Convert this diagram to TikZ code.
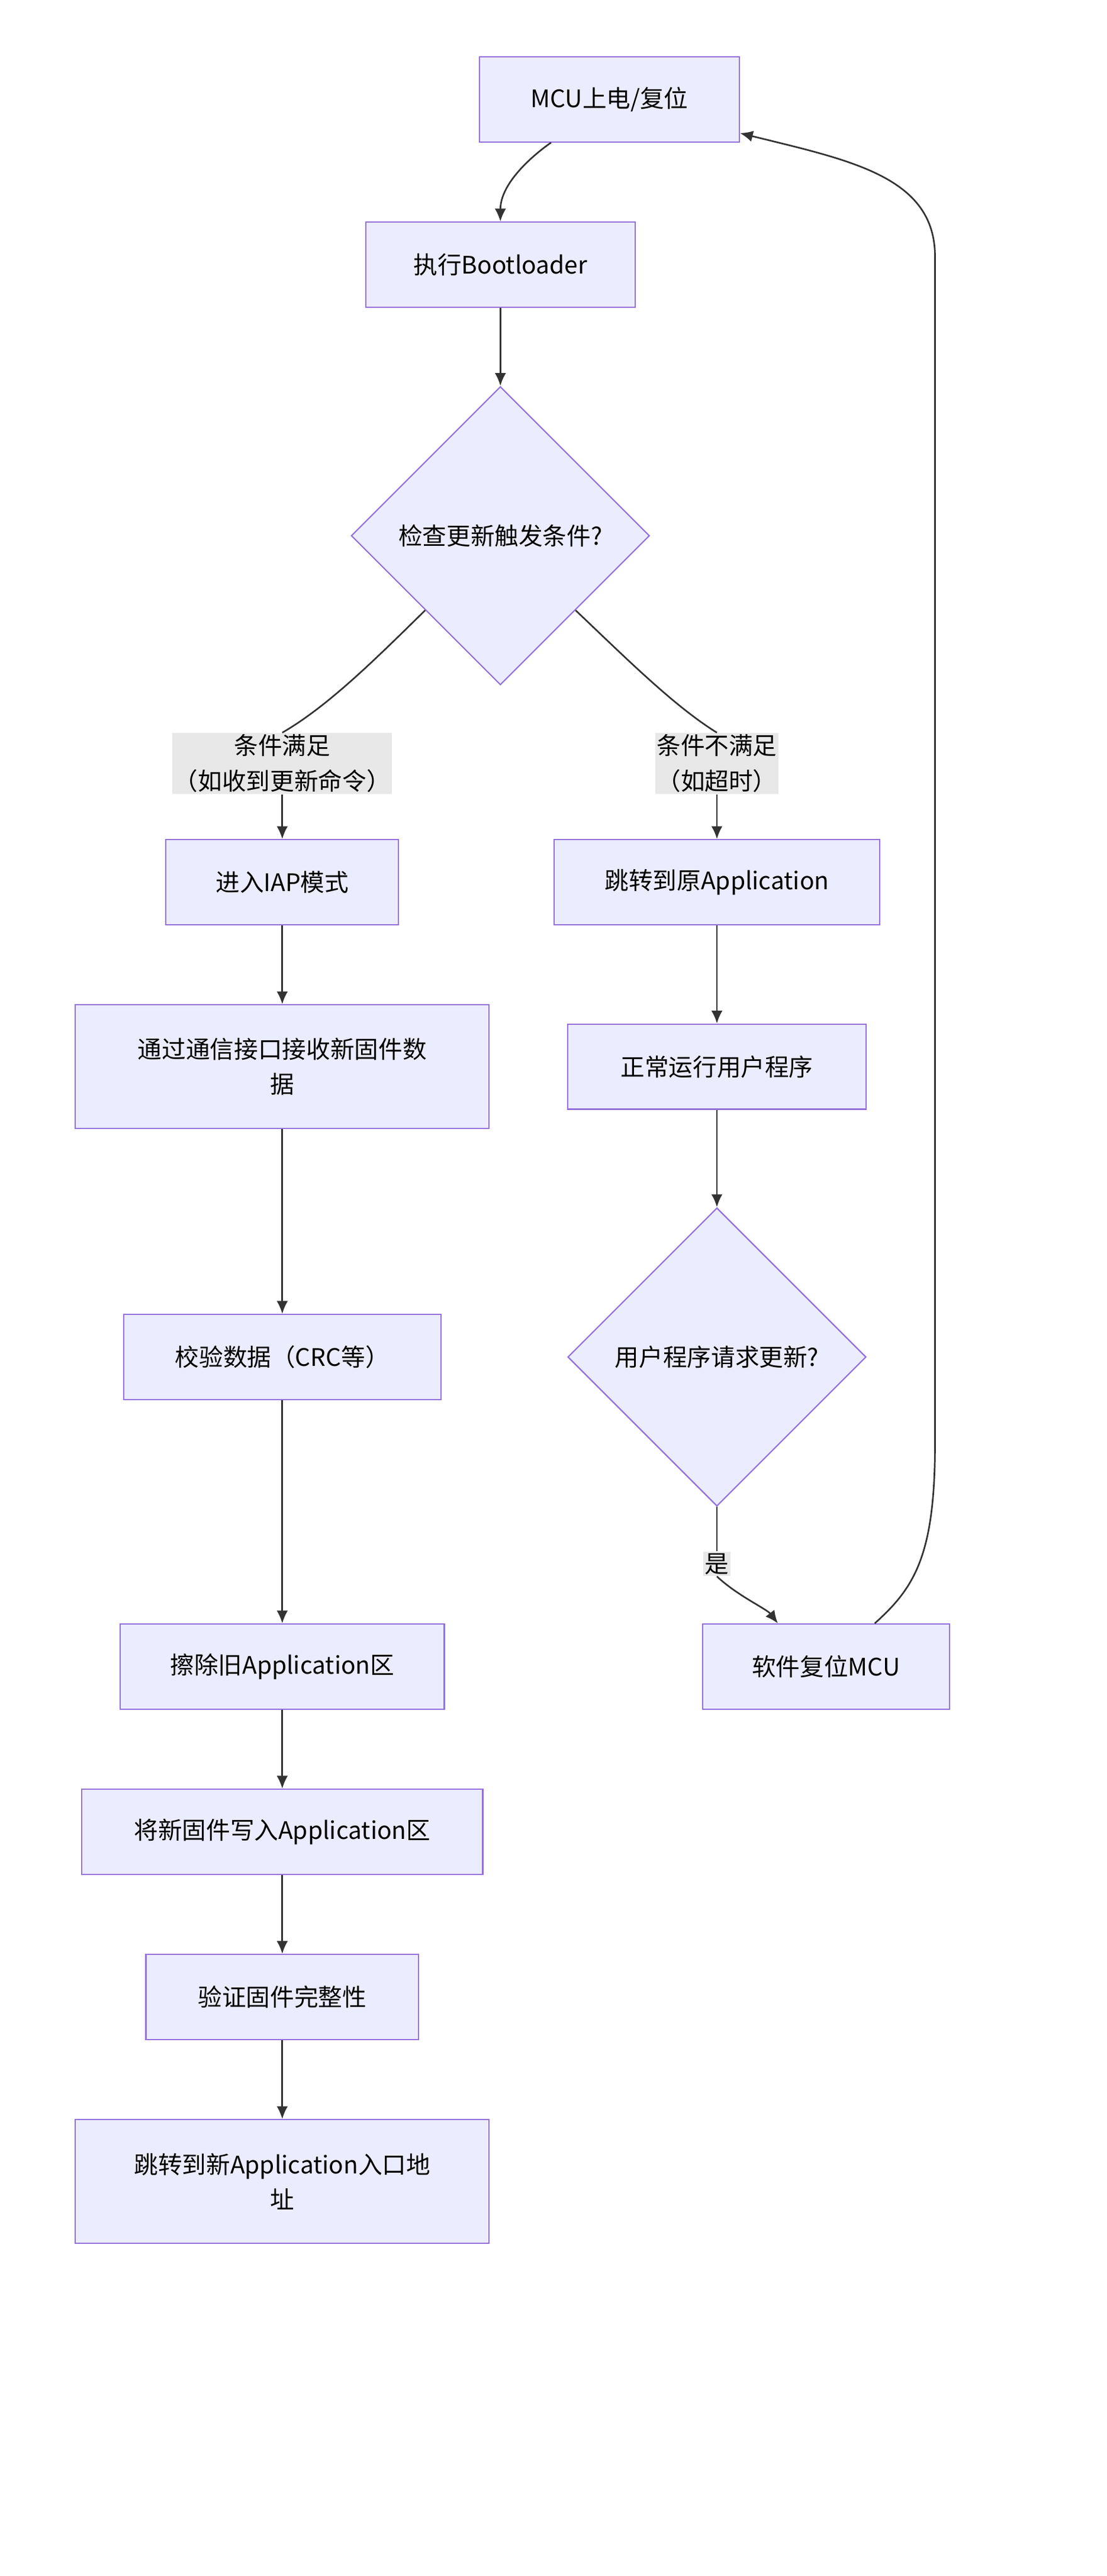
\documentclass[tikz,border=0pt]{standalone}
\usepackage{fontspec}
\setmainfont{Noto Sans CJK SC}
\usetikzlibrary{shapes.geometric,arrows.meta}
\definecolor{nfill}{HTML}{ECECFF}
\definecolor{nline}{HTML}{9370DB}
\definecolor{eline}{HTML}{333333}
\definecolor{lbg}{HTML}{E8E8E8}
\begin{document}
\begin{tikzpicture}[x=1pt,y=-1pt,
 box/.style={draw=nline,fill=nfill,line width=0.8pt,minimum height=53pt,font=\fontsize{15}{22}\selectfont,align=center,inner sep=0pt},
 dia/.style={draw=nline,fill=nfill,line width=0.8pt,diamond,minimum width=186pt,minimum height=186pt,font=\fontsize{15}{22}\selectfont,inner sep=0pt},
 lab/.style={fill=lbg,font=\fontsize{15}{22}\selectfont,align=center,inner sep=1pt},
 e/.style={draw=eline,line width=1pt,-{Latex[length=8pt,width=7pt]}}]
\useasboundingbox (0,0) rectangle (690,1606);
\node[box,minimum width=162pt] (a) at (380,62) {MCU上电/复位};
\node[box,minimum width=168pt] (b) at (312,165) {执行Bootloader};
\node[dia] (c) at (312,334) {检查更新触发条件?};
\node[box,minimum width=145pt] (d) at (176,550) {进入IAP模式};
\node[box,minimum width=203pt] (f) at (447,550) {跳转到原Application};
\node[box,minimum width=258pt,minimum height=77pt] (g) at (176,665) {通过通信接口接收新固件数\\据};
\node[box,minimum width=186pt] (h) at (447,665) {正常运行用户程序};
\node[dia] (i) at (447,846) {用户程序请求更新?};
\node[box,minimum width=198pt] (j) at (176,846) {校验数据（CRC等）};
\node[box,minimum width=202pt] (k) at (176,1039) {擦除旧Application区};
\node[box,minimum width=154pt] (l) at (515,1039) {软件复位MCU};
\node[box,minimum width=250pt] (m) at (176,1142) {将新固件写入Application区};
\node[box,minimum width=170pt] (n) at (176,1245) {验证固件完整性};
\node[box,minimum width=258pt,minimum height=77pt] (o) at (176,1360) {跳转到新Application入口地\\址};
\node[lab] (l1) at (176,476) {条件满足\\（如收到更新命令）};
\node[lab] (l2) at (447,476) {条件不满足\\（如超时）};
\node[lab] (l3) at (447,975) {是};
\draw[e] (a.south west)++(45,0) .. controls +(0,0) and (312,110) .. (b.north);
\draw[e] (b) -- (c);
\draw[draw=eline,line width=1pt] (c.west)++(46.5,46.5) .. controls (235,410) and (205,440) .. (l1.north);
\draw[e] (l1) .. controls (176,510) .. (d);
\draw[draw=eline,line width=1pt] (c.east)++(-46.5,46.5) .. controls (390,410) and (420,440) .. (l2.north);
\draw[e] (l2) .. controls (447,510) .. (f);
\draw[e] (d) -- (g);
\draw[e] (g) -- (j);
\draw[e] (j) -- (k);
\draw[e] (k) -- (m);
\draw[e] (m) -- (n);
\draw[e] (n) -- (o);
\draw[e] (f) -- (h);
\draw[e] (h) -- (i);
\draw[draw=eline,line width=1pt] (i.south) -- (l3.north);
\draw[e] (l3.south) .. controls (460,995) and (478,1003) .. (l.north west -| 485,0) ;
\draw[e] (l.north east)++(-47,0) .. controls (570,990) and (583,970) .. (583,900) -- (583,160) .. controls (583,110) and (530,100) .. (a.east |- 0,83);
\end{tikzpicture}
\end{document}
